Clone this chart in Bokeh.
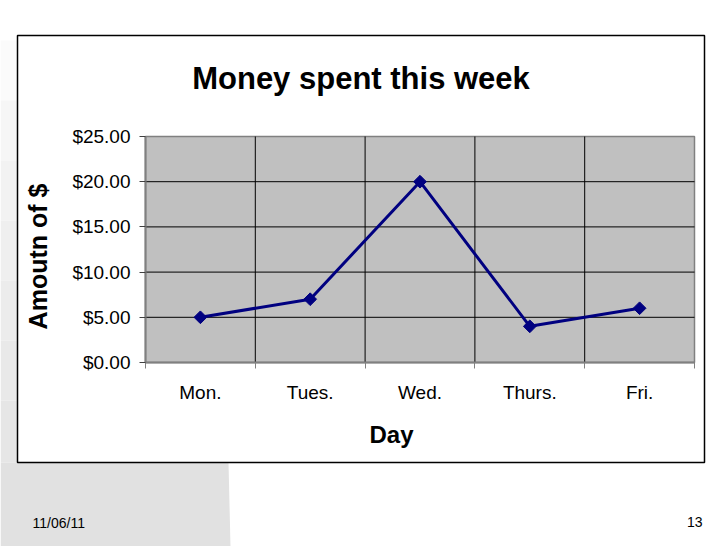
import math
from bokeh.plotting import figure
from bokeh.models import (FixedTicker, NumeralTickFormatter, Label, BoxAnnotation,
                          PolyAnnotation)
from bokeh.embed import file_html
from bokeh.resources import INLINE

# ---- data ----
days = ["Mon.", "Tues.", "Wed.", "Thurs.", "Fri."]
amounts = [5, 7, 20, 4, 6]
y_ticks = [0, 5, 10, 15, 20, 25]
title_text = "Money spent this week"
x_title = "Day"
y_title = "Amoutn of $"
footer_date = "11/06/11"
footer_page = "13"

# ---- layout / style ----
W, H = 728, 546
FONT = "Liberation Sans"
NAVY = "#000080"
AXIS_GRAY = "#808080"
PLOT_GRAY = "#c0c0c0"
# pixel box of the plot area on the canvas
PL, PR, PT, PB = 145, 694, 136, 362

n = len(days)
y_max = y_ticks[-1]
x_pos = [i + 0.5 for i in range(n)]
boundaries = list(range(n + 1))

# ranges chosen so the data box [0,n]x[0,y_max] lands on the plot area pixels,
# while the frame covers the whole canvas
xs_px = (PR - PL) / n
ys_px = (PB - PT) / y_max
x_start = -PL / xs_px
y_start = -(H - PB) / ys_px

p = figure(width=W, height=H, output_backend="svg", toolbar_location=None,
           x_range=(x_start, x_start + W / xs_px),
           y_range=(y_start, y_start + H / ys_px),
           min_border=0)
p.background_fill_color = "white"
p.border_fill_color = "white"
p.outline_line_color = None
p.grid.visible = False

# slide background gradient on the left / bottom-left
band_edges = [40, 100, 160, 220, 280, 340, 400, 462]
band_cols = ["#fbfbfb", "#f6f6f6", "#f2f2f2", "#efefef", "#ececec",
             "#e9e9e9", "#e6e6e6"]
for (t, b), c in zip(zip(band_edges[:-1], band_edges[1:]), band_cols):
    p.add_layout(BoxAnnotation(left=0, right=228, top=t, bottom=b,
                               left_units="canvas", right_units="canvas",
                               top_units="canvas", bottom_units="canvas",
                               fill_color=c, fill_alpha=1, line_alpha=0,
                               level="image"))
p.add_layout(PolyAnnotation(xs=[0, 228, 230, 0], ys=[462, 462, 546, 546],
                            xs_units="canvas", ys_units="canvas",
                            fill_color="#e1e1e1", fill_alpha=1, line_alpha=0,
                            level="image"))

# chart box
p.add_layout(BoxAnnotation(left=17, right=704, top=35, bottom=462,
                           left_units="canvas", right_units="canvas",
                           top_units="canvas", bottom_units="canvas",
                           fill_color="white", fill_alpha=1,
                           line_color="black", line_alpha=1, line_width=1.5,
                           level="image"))

# plot area
p.add_layout(BoxAnnotation(left=0, right=n, bottom=0, top=y_max,
                           fill_color=PLOT_GRAY, fill_alpha=1,
                           line_color=AXIS_GRAY, line_alpha=1, line_width=1.5,
                           level="image"))

# grid lines
inner_y = y_ticks[1:-1]
inner_x = boundaries[1:-1]
p.segment(x0=[0] * len(inner_y), x1=[n] * len(inner_y), y0=inner_y, y1=inner_y,
          line_color="black", line_width=1, level="underlay")
p.segment(x0=inner_x, x1=inner_x, y0=[0] * len(inner_x), y1=[y_max] * len(inner_x),
          line_color="black", line_width=1, level="underlay")

# x axis
xa = p.xaxis[0]
xa.fixed_location = 0
xa.bounds = (0, n)
xa.ticker = FixedTicker(ticks=x_pos, minor_ticks=boundaries)
xa.major_label_overrides = {x: d for x, d in zip(x_pos, days)}
xa.major_tick_out = 0
xa.major_tick_in = 0
xa.minor_tick_out = 6
xa.minor_tick_in = 0
xa.minor_tick_line_color = AXIS_GRAY
xa.axis_line_color = AXIS_GRAY
xa.axis_line_width = 2
xa.major_label_text_font = FONT
xa.major_label_text_font_size = "19px"
xa.major_label_text_color = "black"
xa.major_label_standoff = 13

# y axis
ya = p.yaxis[0]
ya.fixed_location = 0
ya.bounds = (0, y_max)
ya.ticker = FixedTicker(ticks=y_ticks)
ya.formatter = NumeralTickFormatter(format="$0.00")
ya.major_tick_out = 6
ya.major_tick_in = 0
ya.major_tick_line_color = "#404040"
ya.minor_tick_out = 0
ya.minor_tick_in = 0
ya.axis_line_color = AXIS_GRAY
ya.axis_line_width = 2
ya.major_label_text_font = FONT
ya.major_label_text_font_size = "19px"
ya.major_label_text_color = "black"
ya.major_label_standoff = 9

# series
p.line(x_pos, amounts, line_color=NAVY, line_width=3)
p.scatter(x_pos, amounts, marker="square", angle=math.pi / 4, size=9,
          fill_color=NAVY, line_color=NAVY)

# texts
def canvas_label(x, y, text, size, bold=False, align="left",
                 baseline="alphabetic", angle=0.0):
    return Label(x=x, y=y, x_units="canvas", y_units="canvas", text=text,
                 text_font=FONT, text_font_size=size,
                 text_font_style="bold" if bold else "normal",
                 text_align=align, text_baseline=baseline, angle=angle,
                 text_color="black")

p.add_layout(canvas_label(360.5, 78, title_text, "31px", bold=True, align="center"))
p.add_layout(canvas_label(391, 434, x_title, "24px", bold=True, align="center"))
p.add_layout(canvas_label(37, 256, y_title, "25px", bold=True, align="center",
                          baseline="middle", angle=math.pi / 2))
p.add_layout(canvas_label(32, 522, footer_date, "14px"))
p.add_layout(canvas_label(702, 521, footer_page, "14px", align="right"))

open("out.html", "w").write(file_html(p, INLINE))
